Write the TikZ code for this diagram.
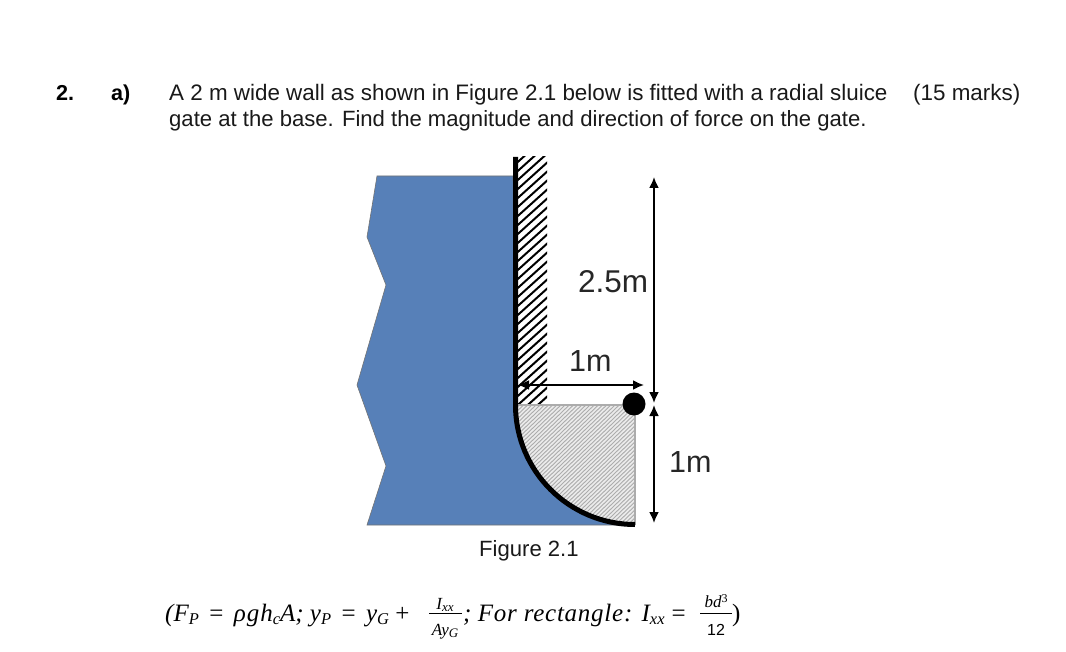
\documentclass[tikz,border=0pt]{standalone}
\usepackage{fontspec}
\setmainfont{Liberation Sans}
\newfontfamily\mathlike{Liberation Serif}
\usetikzlibrary{arrows.meta}
\definecolor{waterblue}{RGB}{87,128,184}
\definecolor{gatehatch}{RGB}{172,172,172}
\newcommand{\fm}[1]{{\mathlike\itshape #1}}
\newcommand{\fsub}[1]{\raisebox{-3.5pt}{\fontsize{16.5}{18}\selectfont\mathlike\itshape #1}}
\newcommand{\fss}[1]{\raisebox{-2.5pt}{\fontsize{13}{14}\selectfont\mathlike\itshape #1}}
\tikzset{
  txt/.style={inner sep=0pt,anchor=base west,text=black!90,font=\fontsize{22.4}{24}\selectfont},
  txtb/.style={inner sep=0pt,anchor=base west,text=black!90,font=\fontsize{22.1}{24}\selectfont},
  bold/.style={inner sep=0pt,anchor=base west,font=\fontsize{21.6}{24}\selectfont\bfseries},
  dim/.style={inner sep=0pt,anchor=base west,text=black!85,font=\fontsize{30.5}{34}\selectfont},
  dimboth/.style={draw=black,line width=1.9pt,{Latex[length=11pt,width=10pt]}-{Latex[length=11pt,width=10pt]}},
  frm/.style={inner sep=0pt,anchor=base west,font=\fontsize{25}{28}\selectfont\mathlike\itshape},
  frc/.style={inner sep=0pt,anchor=base,font=\fontsize{17}{18}\selectfont\mathlike\itshape},
}
\begin{document}
\begin{tikzpicture}[x=1pt,y=-1pt]
\useasboundingbox (0,0) rectangle (1066,652);
% text
\node[bold] (num) at (56,101) {2.};
\node[bold] (part) at (111,101) {a)};
\node[txt] (line1) at (169,101) {A 2 m wide wall as shown in Figure 2.1 below is fitted with a radial sluice};
\node[txt] (marks) at (913,101) {(15 marks)};
\node[txtb] (line2) at (169,127) {gate at the base. Find the magnitude and direction of force on the gate.};
% water
\fill[waterblue,draw=black!55,line width=0.6pt] (377,176) -- (513,176) -- (515,405) arc[start angle=180,end angle=90,radius=120] -- (367,525) -- (386,466) -- (357,385) -- (386,285) -- (367,237) -- cycle;
% wall hatching
\begin{scope}
\clip (517,157) rectangle (547,405);
\foreach \k in {0,...,32}{
  \draw[line width=2pt,black] (510,{160+\k*9}) -- (550,{160+\k*9-36});
}
\end{scope}
% gate hatching
\begin{scope}
\clip (515,405) arc[start angle=180,end angle=90,radius=120] -- (635,405) -- cycle;
\fill[black!8] (510,400) rectangle (640,530);
\foreach \k in {0,...,60}{
  \draw[line width=0.9pt,gatehatch] (510,{410+\k*4}) -- (640,{410+\k*4-125});
}
\end{scope}
\draw[gatehatch,line width=1.2pt] (517,405) -- (635,405) -- (635,525);
% wall and gate line
\coordinate (walltop) at (515.5,157);
\coordinate (hinge) at (515.5,405);
\draw[line width=5pt,black] (walltop) -- (hinge) arc[start angle=180,end angle=90,radius=119.5] coordinate (gateend);
% hinge
\node[circle,fill=black,minimum size=23pt,inner sep=0pt] (pin) at (634,404) {};
% dimensions
\coordinate (dtop) at (654,177);
\coordinate (dmid1) at (654,403);
\coordinate (dmid2) at (654,405);
\coordinate (dbot) at (654,523);
\coordinate (hl) at (518,385);
\coordinate (hr) at (644,385);
\draw[dimboth] (dtop) -- (dmid1);
\draw[dimboth] (dmid2) -- (dbot);
\draw[dimboth] (hl) -- (hr);
\node[dim,font=\fontsize{31.5}{34}\selectfont] (l25) at (578,293) {2.5m};
\node[dim] (l1a) at (569,372) {1m};
\node[dim] (l1b) at (669,472) {1m};
\node[txtb] (fig) at (479,556) {Figure 2.1};
% formula
\node[frm] (f1) at (165,621) {(\fm{F}\fsub{P} \,{\upshape =}\, ρ\kern1pt g\kern1pt h\fsub{c}A; y\fsub{P} \,{\upshape =}\, y\fsub{G} {\upshape +}};
\node[frc] (n1) at (445,609) {I\fss{xx}};
\node[frc] (d1) at (445,635) {Ay\fss{G}};
\draw[line width=0.8pt] (429,613.5) -- (462,613.5);
\node[frm] (f2) at (463,621) {; \addfontfeatures{LetterSpace=3}For rectangle: I\fsub{xx} {\upshape =}};
\node[frc] (n2) at (716,607) {{bd}\raisebox{5pt}{\fontsize{12}{13}\selectfont\upshape 3}};
\node[frc,font=\fontsize{16}{18}\selectfont] (d2) at (716,635) {12};
\draw[line width=0.8pt] (700,613.5) -- (732,613.5);
\node[frm,font=\fontsize{25}{28}\selectfont\mathlike] (f3) at (732,621) {)};
\end{tikzpicture}
\end{document}
